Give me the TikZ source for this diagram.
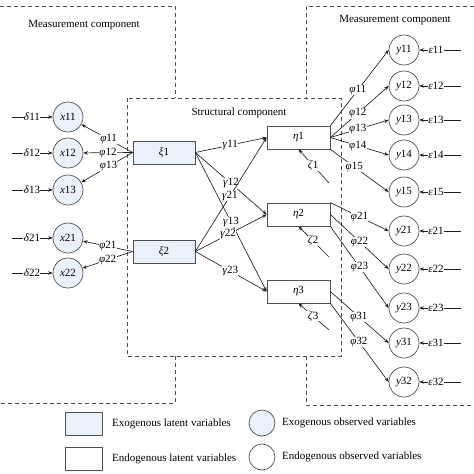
\documentclass[tikz,border=0pt]{standalone}
\usepackage{fontspec}
\setmainfont{Liberation Serif}
\usetikzlibrary{arrows.meta}
\definecolor{exo}{RGB}{233,242,251}
\definecolor{ln}{RGB}{30,30,30}
\definecolor{bd}{RGB}{80,80,80}
\newcommand\gk[1]{\textit{#1}}
\begin{document}
\begin{tikzpicture}[x=1pt,y=-1pt,
  font=\fontsize{11}{13}\selectfont,
  every node/.style={inner sep=1pt},
  arr/.style={draw=ln, line width=0.65pt, -{Stealth[length=4.5pt,width=3.5pt]}},
  lab/.style={fill=white, inner sep=0.4pt},
  exorect/.style={draw=bd, fill=exo, minimum width=62pt, minimum height=23pt, line width=0.7pt},
  endorect/.style={draw=bd, fill=white, minimum width=63pt, minimum height=23pt, line width=0.7pt},
  exocirc/.style={circle, draw=bd, fill=exo, minimum size=30pt, inner sep=0pt, line width=0.7pt},
  endocirc/.style={circle, draw=bd, fill=white, minimum size=30pt, inner sep=0pt, line width=0.7pt},
  region/.style={draw=bd, dash pattern=on 4pt off 3pt, line width=0.8pt},
]
\useasboundingbox (0,0) rectangle (474,474);
% regions
\draw[region] (0,6) -- (175,6) -- (175,98);
\draw[region] (175,356) -- (175,403) -- (0,403);
\draw[region] (127,98) rectangle (341,356);
\draw[region] (474,6) -- (306,6) -- (306,98);
\draw[region] (306,356) -- (306,405) -- (474,405);
\node (mc1) at (84,25) {Measurement component};
\node (mc2) at (395,20) {Measurement component};
\node (sc) at (239,113) {Structural component};
% exogenous observed
\node[exocirc] (x11) at (68,117) {\gk{x}11};
\node[exocirc] (x12) at (68,153) {\gk{x}12};
\node[exocirc] (x13) at (68,190) {\gk{x}13};
\node[exocirc] (x21) at (68,238) {\gk{x}21};
\node[exocirc] (x22) at (68,273) {\gk{x}22};
% latent
\node[exorect] (xi1) at (164,152.5) {\gk{ξ}1};
\node[exorect] (xi2) at (164,251.5) {\gk{ξ}2};
\node[endorect] (eta1) at (298.5,137.5) {\gk{η}1};
\node[endorect] (eta2) at (298.5,214.5) {\gk{η}2};
\node[endorect] (eta3) at (298.5,291.5) {\gk{η}3};
% endogenous observed
\node[endocirc] (y11) at (404,50) {\gk{y}11};
\node[endocirc] (y12) at (404,86) {\gk{y}12};
\node[endocirc] (y13) at (404,120) {\gk{y}13};
\node[endocirc] (y14) at (404,155) {\gk{y}14};
\node[endocirc] (y15) at (404,192) {\gk{y}15};
\node[endocirc] (y21) at (404,231) {\gk{y}21};
\node[endocirc] (y22) at (404,269) {\gk{y}22};
\node[endocirc] (y23) at (404,308) {\gk{y}23};
\node[endocirc] (y31) at (404,343) {\gk{y}31};
\node[endocirc] (y32) at (404,382) {\gk{y}32};
% delta errors
\foreach \n/\yy in {11/117,12/153,13/190,21/238,22/273}{
  \coordinate (d\n) at (12,\yy);
  \draw[arr] (d\n) -- node[lab,pos=0.49]{\gk{δ}\n} (x\n);
}
% epsilon errors
\foreach \n/\yy in {11/50,12/86,13/120,14/155,15/192,21/231,22/269,23/308,31/343,32/382}{
  \coordinate (e\n) at (461,\yy);
  \draw[arr] (e\n) -- node[lab,pos=0.6]{\gk{ε}\n} (y\n);
}
% left loadings
\draw[arr] (xi1.west) -- node[lab,pos=0.47]{\gk{φ}11} (x11);
\draw[arr] (xi1.west) -- node[lab,pos=0.5]{\gk{φ}12} (x12);
\draw[arr] (xi1.west) -- node[lab,pos=0.47]{\gk{φ}13} (x13);
\draw[arr] (xi2.west) -- node[lab,pos=0.5]{\gk{φ}21} (x21);
\draw[arr] (xi2.west) -- node[lab,pos=0.5]{\gk{φ}22} (x22);
% structural paths
\draw[arr] (xi1.east) -- node[lab,pos=0.49]{\gk{γ}11} (eta1.west);
\draw[arr] (xi1.east) -- node[lab,pos=0.5]{\gk{γ}12} (eta2.west);
\draw[arr] (xi2.east) -- node[lab,pos=0.485]{\gk{γ}21} (eta1.west);
\draw[arr] (xi1.east) -- node[lab,pos=0.5]{\gk{γ}13} (eta3.west);
\draw[arr] (xi2.east) -- node[lab,pos=0.46]{\gk{γ}22} (eta2.west);
\draw[arr] (xi2.east) -- node[lab,pos=0.49]{\gk{γ}23} (eta3.west);
% disturbances
\coordinate (z1) at (329,183);
\coordinate (z2) at (329,257);
\coordinate (z3) at (329,330);
\draw[arr] (z1) -- node[lab,pos=0.52]{\gk{ζ}1} (eta1.south);
\draw[arr] (z2) -- node[lab,pos=0.52]{\gk{ζ}2} (eta2.south);
\draw[arr] (z3) -- node[lab,pos=0.52]{\gk{ζ}3} (eta3.south);
% right loadings
\draw[arr] (eta1.north east) -- node[lab,pos=0.47]{\gk{φ}11} (y11.west);
\draw[arr] (eta1.east) -- node[lab,pos=0.47]{\gk{φ}12} (y12.west);
\draw[arr] (eta1.east) -- node[lab,pos=0.47]{\gk{φ}13} (y13.west);
\draw[arr] (eta1.east) -- node[lab,pos=0.47]{\gk{φ}14} (y14.west);
\draw[arr] (eta1.south east) -- node[lab,pos=0.41]{\gk{φ}15} (y15.west);
\draw[arr] (eta2.north east) -- node[lab,pos=0.5]{\gk{φ}21} (y21.west);
\draw[arr] (eta2.east) -- node[lab,pos=0.5]{\gk{φ}22} (y22.west);
\draw[arr] (eta2.south east) -- node[lab,pos=0.5]{\gk{φ}23} (y23.west);
\draw[arr] (eta3.east) -- node[lab,pos=0.49]{\gk{φ}31} (y31.west);
\draw[arr] (eta3.south east) -- node[lab,pos=0.49]{\gk{φ}32} (y32.west);
% legend
\node[exorect, minimum width=37pt] (lg1) at (83.5,423.5) {};
\node[anchor=west] (lt1) at (111,424) {Exogenous latent variables};
\node[endorect, minimum width=37pt] (lg2) at (83.5,458.5) {};
\node[anchor=west] (lt2) at (111,458.5) {Endogenous latent variables};
\node[exocirc, minimum size=26pt] (lc1) at (262,423) {};
\node[anchor=west] (lt3) at (281,423) {Exogenous observed variables};
\node[endocirc, minimum size=26pt] (lc2) at (262,457) {};
\node[anchor=west] (lt4) at (281,457) {Endogenous observed variables};
\end{tikzpicture}
\end{document}
